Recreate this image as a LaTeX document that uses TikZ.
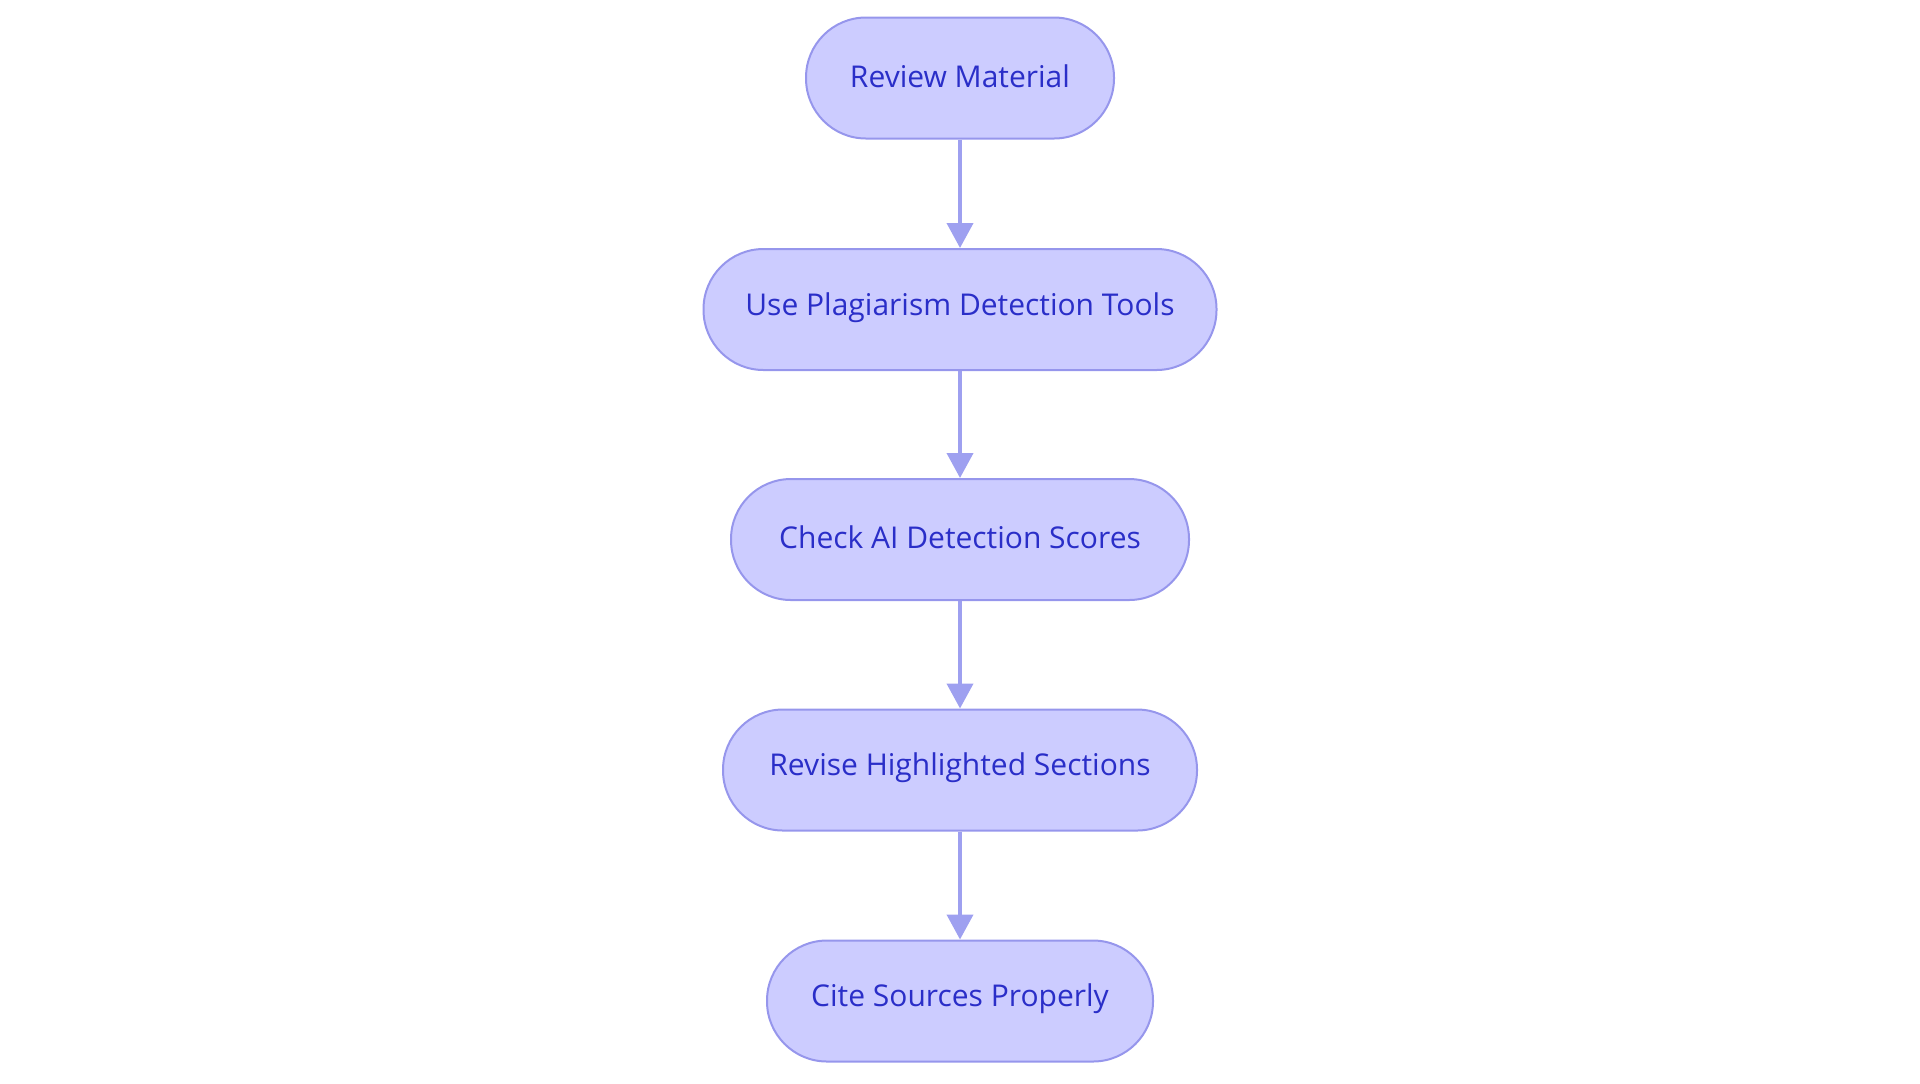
\documentclass[tikz,border=0pt]{standalone}
\usepackage{fontspec}
\setmainfont{Open Sans}
\usetikzlibrary{arrows.meta}
\definecolor{boxfill}{RGB}{204,204,255}
\definecolor{boxline}{RGB}{150,150,236}
\definecolor{arrowcol}{RGB}{158,160,240}
\definecolor{txtcol}{RGB}{42,46,200}
\tikzset{
  stepbox/.style={draw=boxline, fill=boxfill, line width=1pt, rounded corners=30pt,
    minimum height=60.5pt, inner sep=0pt, text=txtcol, font=\fontsize{15}{18}\selectfont},
  steplabel/.style={text=txtcol, font=\fontsize{15}{18}\selectfont, inner sep=0pt},
  flowarrow/.style={draw=arrowcol, line width=2pt, -{Triangle[length=12.5pt,width=13pt]}}
}
\begin{document}
\begin{tikzpicture}[x=0.5pt,y=-0.5pt]
\useasboundingbox (0,0) rectangle (1920,1083);
\node[stepbox, minimum width=154pt] (a) at (960,78) {};
\node[stepbox, minimum width=256.5pt] (b) at (960,309.5) {};
\node[stepbox, minimum width=229pt] (c) at (960,539.5) {};
\node[stepbox, minimum width=237pt] (d) at (960,770) {};
\node[stepbox, minimum width=193pt] (e) at (960,1001) {};
\node[steplabel, yshift=1pt] (ta) at (a) {Review Material};
\node[steplabel, yshift=1pt] (tb) at (b) {Use Plagiarism Detection Tools};
\node[steplabel, yshift=1pt] (tc) at (c) {Check AI Detection Scores};
\node[steplabel, yshift=1pt] (td) at (d) {Revise Highlighted Sections};
\node[steplabel, yshift=1pt] (te) at (e) {Cite Sources Properly};
\draw[flowarrow] (a) -- (b);
\draw[flowarrow] (b) -- (c);
\draw[flowarrow] (c) -- (d);
\draw[flowarrow] (d) -- (e);
\end{tikzpicture}
\end{document}
